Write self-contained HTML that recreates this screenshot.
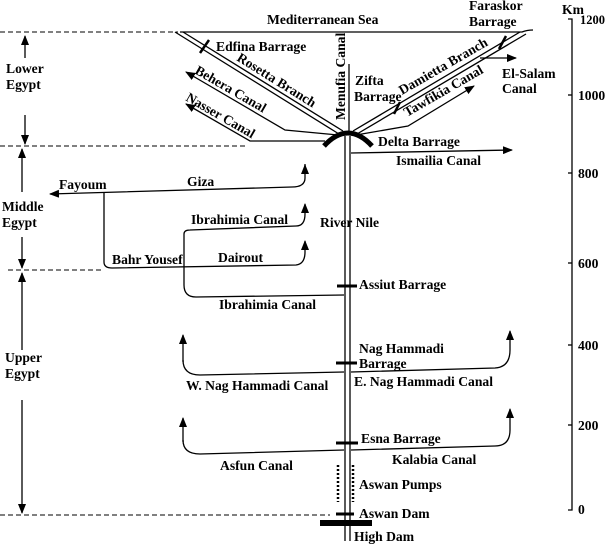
<!DOCTYPE html>
<html><head><style>
html,body{margin:0;padding:0;background:#fff;}
svg{display:block;font-family:"Liberation Serif",serif;font-weight:bold;}
text{font-size:13.6px;fill:#000;}
</style></head><body>
<svg width="609" height="545" viewBox="0 0 609 545" xmlns="http://www.w3.org/2000/svg">
<defs>
<marker id="a" markerWidth="10" markerHeight="8" refX="9" refY="4" orient="auto" markerUnits="userSpaceOnUse">
<path d="M0,0 L10,4 L0,8 Z" fill="#000"/></marker>
</defs>
<g stroke="#000" fill="none" stroke-width="1.3">
<g stroke-dasharray="5,3" stroke-width="1">
<line x1="0" y1="32" x2="178" y2="32"/>
<line x1="0" y1="146" x2="245" y2="146"/>
<line x1="8" y1="270" x2="102" y2="270"/>
<line x1="0" y1="515" x2="330" y2="515"/>
</g>
<line x1="25" y1="58" x2="25" y2="36" marker-end="url(#a)"/>
<line x1="25" y1="115" x2="25" y2="144" marker-end="url(#a)"/>
<line x1="22" y1="192" x2="22" y2="149" marker-end="url(#a)"/>
<line x1="22" y1="237" x2="22" y2="268" marker-end="url(#a)"/>
<line x1="22" y1="350" x2="22" y2="273" marker-end="url(#a)"/>
<line x1="22" y1="400" x2="22" y2="513" marker-end="url(#a)"/>
<path d="M180,32 L522,32 Q527,30 533,30"/>
<line x1="175" y1="32" x2="339" y2="134"/>
<line x1="183" y1="32" x2="343" y2="131"/>
<line x1="353" y1="131" x2="520" y2="32"/>
<line x1="357" y1="134" x2="526" y2="34"/>
<line x1="200" y1="53" x2="209" y2="40" stroke-width="2.5"/>
<line x1="499" y1="49" x2="506" y2="36" stroke-width="2.5"/>
<line x1="394" y1="114" x2="400" y2="102" stroke-width="2.5"/>
<polyline points="338,135 285,130 186,72" marker-end="url(#a)"/>
<polyline points="325,141 250,141 186,104" marker-end="url(#a)"/>
<polyline points="356,135 408,126 474,86" marker-end="url(#a)"/>
<line x1="480" y1="58" x2="516" y2="58" marker-end="url(#a)"/>
<line x1="349" y1="64" x2="349" y2="134"/>
<path d="M324,146 Q348,120 372,146" stroke-width="5"/>
<line x1="345" y1="136" x2="345" y2="541"/>
<line x1="350" y1="136" x2="350" y2="541"/>
<line x1="351" y1="153" x2="512" y2="150" marker-end="url(#a)"/>
<path d="M305,164 L305,178 Q305,187 292,187 L50,194" marker-end="url(#a)"/>
<line x1="305" y1="168" x2="305" y2="165" marker-end="url(#a)"/>
<path d="M104,193 L104,262 Q104,268 112,268 L296,265 Q305,264 305,252 L305,241" marker-end="url(#a)"/>
<path d="M344,295 L196,297 Q184,297 184,285 L184,234 Q184,230 190,230 L296,226 Q305,226 305,214 L305,204" marker-end="url(#a)"/>
<path d="M183,360 Q183,375 200,375 L344,372"/>
<line x1="183" y1="362" x2="183" y2="335" marker-end="url(#a)"/>
<path d="M351,372 L495,368 Q510,367 510,350 L510,331" marker-end="url(#a)"/>
<path d="M183,440 Q183,454 200,454 L344,450"/>
<line x1="183" y1="442" x2="183" y2="418" marker-end="url(#a)"/>
<path d="M351,450 L495,446 Q510,446 510,430 L510,409" marker-end="url(#a)"/>
<line x1="337" y1="286" x2="357" y2="286" stroke-width="3"/>
<line x1="336" y1="363" x2="357" y2="363" stroke-width="3"/>
<line x1="336" y1="443" x2="358" y2="443" stroke-width="3"/>
<line x1="336" y1="514" x2="354" y2="514" stroke-width="3"/>
<rect x="320" y="520" width="52" height="6" fill="#000" stroke="none"/>
<line x1="338" y1="465" x2="338" y2="502" stroke-dasharray="2,2" stroke-width="2.5"/>
<line x1="353" y1="465" x2="353" y2="502" stroke-dasharray="2,2" stroke-width="2.5"/>
<polyline points="568,19 572,19 572,510 568,510"/>
<line x1="568" y1="95" x2="572" y2="95"/>
<line x1="568" y1="173" x2="572" y2="173"/>
<line x1="568" y1="263" x2="572" y2="263"/>
<line x1="568" y1="345" x2="572" y2="345"/>
<line x1="568" y1="425" x2="572" y2="425"/>
</g>
<text x="267" y="24">Mediterranean Sea</text>
<text x="469" y="10">Faraskor</text>
<text x="469" y="26">Barrage</text>
<text x="216" y="51">Edfina Barrage</text>
<text x="236" y="60" transform="rotate(32 236 60)">Rosetta Branch</text>
<text x="194" y="73" transform="rotate(30 194 73)">Behera Canal</text>
<text x="185" y="100" transform="rotate(30 185 100)">Nasser Canal</text>
<text x="345" y="120" transform="rotate(-90 345 120)">Menufia Canal</text>
<text x="355" y="85">Zifta</text>
<text x="354" y="101">Barrage</text>
<text x="402" y="95" transform="rotate(-30 402 95)">Damietta Branch</text>
<text x="407" y="117" transform="rotate(-30 407 117)">Tawfikia Canal</text>
<text x="502" y="78">El-Salam</text>
<text x="502" y="93">Canal</text>
<text x="378" y="146">Delta Barrage</text>
<text x="396" y="165">Ismailia Canal</text>
<text x="59" y="189">Fayoum</text>
<text x="187" y="186">Giza</text>
<text x="2" y="211">Middle</text>
<text x="2" y="227">Egypt</text>
<text x="6" y="73">Lower</text>
<text x="6" y="89">Egypt</text>
<text x="191" y="224">Ibrahimia Canal</text>
<text x="320" y="227">River Nile</text>
<text x="112" y="264">Bahr Yousef</text>
<text x="218" y="262">Dairout</text>
<text x="359" y="289">Assiut Barrage</text>
<text x="219" y="309">Ibrahimia Canal</text>
<text x="359" y="353">Nag Hammadi</text>
<text x="359" y="368">Barrage</text>
<text x="186" y="390">W. Nag Hammadi Canal</text>
<text x="354" y="386">E. Nag Hammadi Canal</text>
<text x="5" y="362">Upper</text>
<text x="5" y="378">Egypt</text>
<text x="361" y="443">Esna Barrage</text>
<text x="392" y="464">Kalabia Canal</text>
<text x="220" y="470">Asfun Canal</text>
<text x="359" y="489">Aswan Pumps</text>
<text x="359" y="518">Aswan Dam</text>
<text x="354" y="541">High Dam</text>
<text x="562" y="14">Km</text>
<text x="580" y="24" style="font-size:12.5px">1200</text>
<text x="578" y="100">1000</text>
<text x="578" y="178">800</text>
<text x="578" y="268">600</text>
<text x="578" y="350">400</text>
<text x="578" y="430">200</text>
<text x="578" y="514">0</text>
</svg>
</body></html>
